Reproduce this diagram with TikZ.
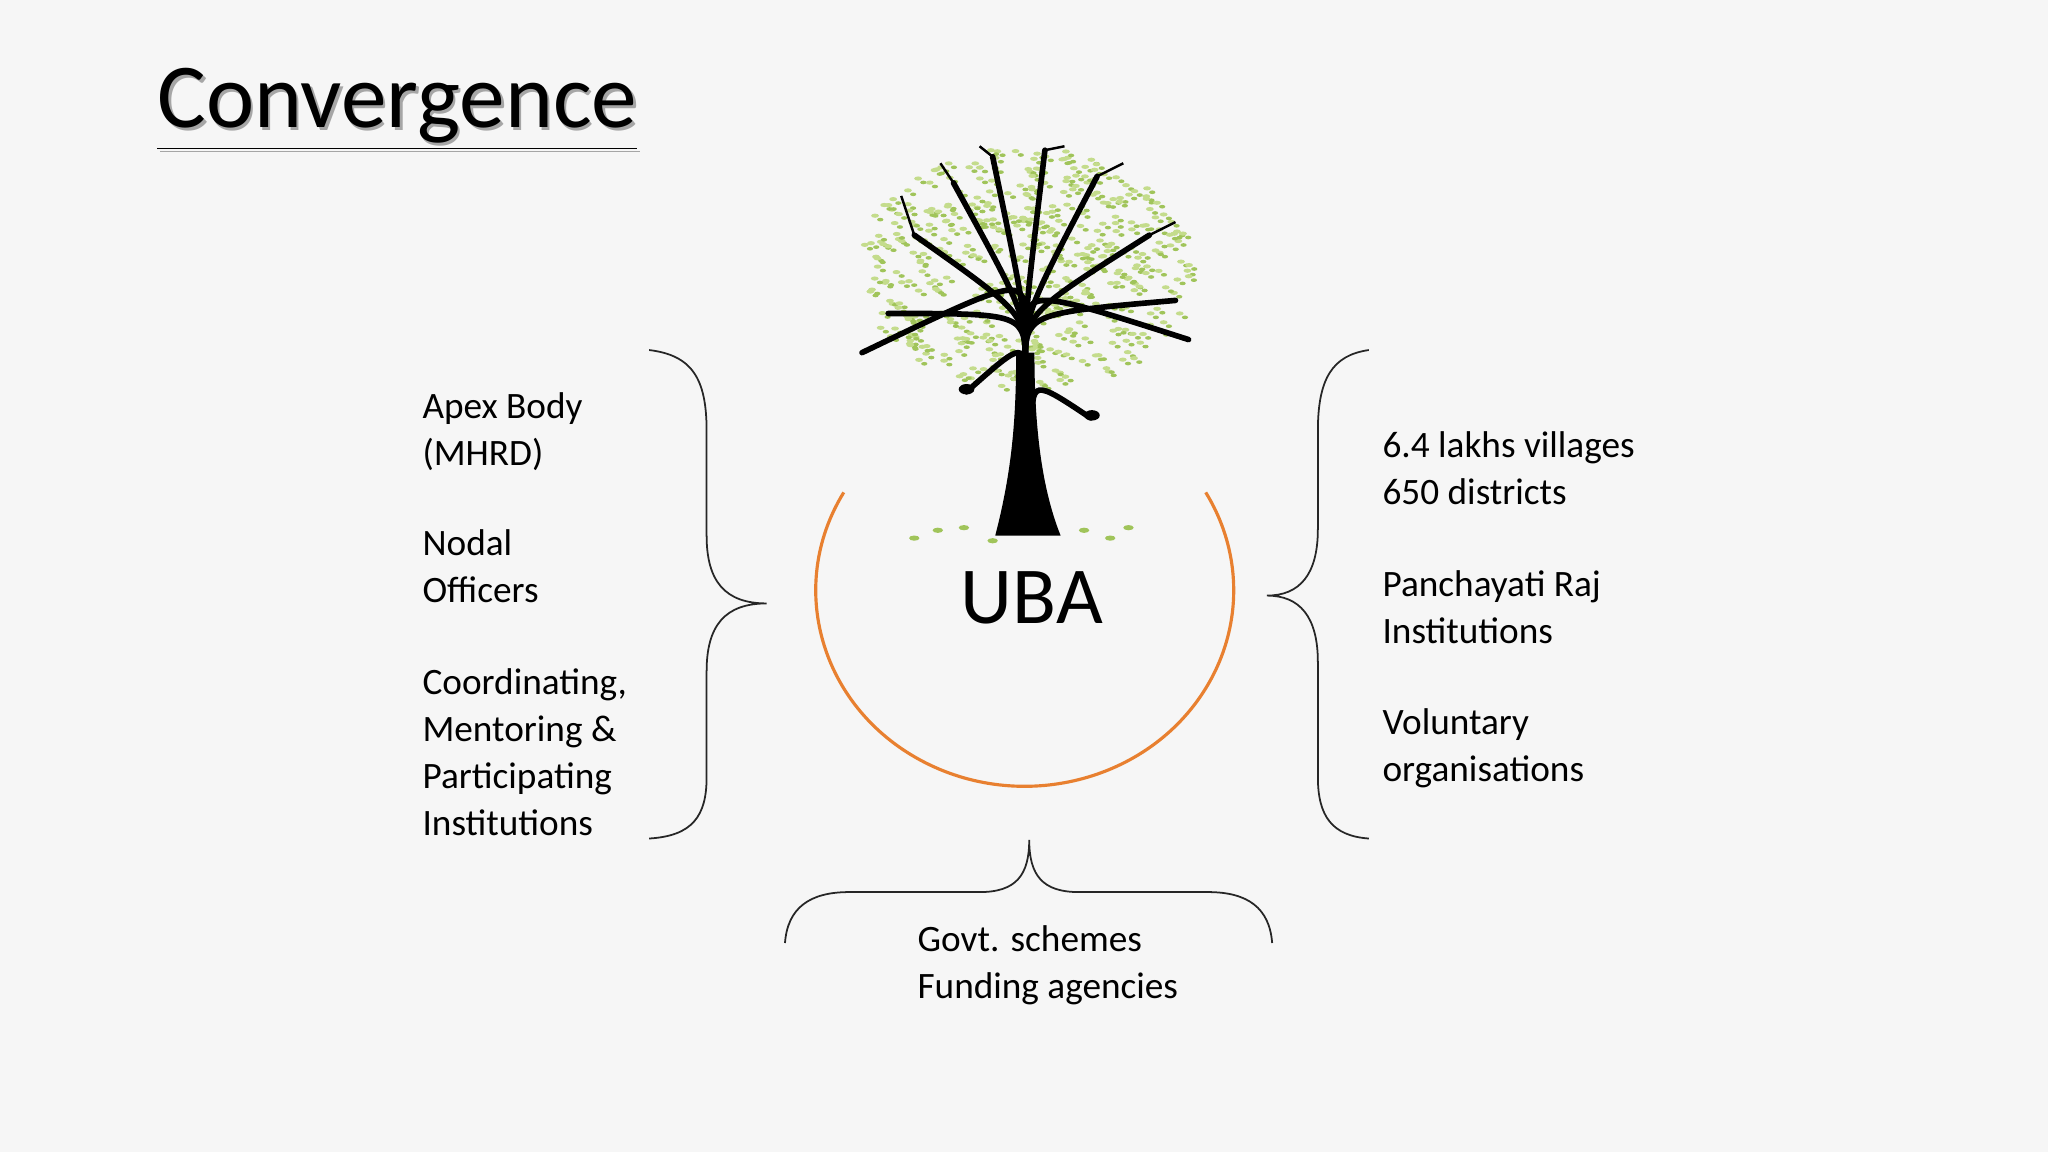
\documentclass[tikz,border=0pt]{standalone}
\usepackage{fontspec}
\setmainfont{Carlito}
\definecolor{bgcol}{RGB}{246,246,246}
\definecolor{arccol}{RGB}{232,128,48}
\definecolor{leafA}{RGB}{160,196,90}
\definecolor{leafB}{RGB}{196,220,140}
\begin{document}
\begin{tikzpicture}[x=0.01306cm,y=0.01306cm]
  \tikzset{txt/.style={anchor=north west,align=left,font=\fontsize{10.6pt}{13.4pt}\selectfont,inner sep=0pt},
    brace/.style={draw=black!85,line width=0.5pt},
    leaf/.style={fill=leafA,draw=none}}
  \fill[bgcol] (0,0) rectangle (1568,-882);
  \useasboundingbox (0,0) rectangle (1568,-882);

  % title
  \node[anchor=west,inner sep=0pt,text=black!35] at (122,-86) {\fontsize{26pt}{30pt}\selectfont\underline{Convergence}};
  \node[anchor=west,inner sep=0pt] (title) at (120,-84) {\fontsize{26pt}{30pt}\selectfont\underline{Convergence}};

  % tree
  \pgfmathsetseed{7}
  \foreach \i in {1,...,420}{
    \pgfmathsetmacro{\ang}{rand*180}
    \pgfmathsetmacro{\rr}{sqrt(rnd)}
    \pgfmathsetmacro{\lx}{785+128*\rr*cos(\ang)}
    \pgfmathsetmacro{\ly}{-205+92*\rr*sin(\ang)}
    \fill[leaf,fill=leafB] (\lx,\ly) ellipse (3 and 1.6);
    \fill[leaf] (\lx+4,\ly-3) ellipse (2.4 and 1.4);
  }
  \fill[black] (762,-410) .. controls (775,-360) and (778,-320) .. (778,-270)
     -- (792,-270) .. controls (792,-320) and (796,-370) .. (812,-410) -- cycle;
  \foreach \sx/\sy/\ex/\ey in {785/-280/700/-180, 785/-280/730/-140, 785/-280/760/-120,
      785/-280/800/-115, 785/-280/840/-135, 785/-280/880/-180, 785/-280/900/-230,
      785/-280/680/-240, 785/-300/740/-300, 790/-330/835/-320, 785/-250/660/-270,
      785/-260/910/-260}
    \draw[black,line width=1.6pt,line cap=round] (\sx,\sy) .. controls (\sx,\sy+40) .. (\ex,\ey);
  \foreach \sx/\sy/\ex/\ey in {700/-180/690/-150, 730/-140/720/-125, 800/-115/815/-112,
      840/-135/860/-125, 880/-180/900/-170, 760/-120/750/-112}
    \draw[black,line width=0.7pt] (\sx,\sy) -- (\ex,\ey);
  \fill[black] (740,-298) ellipse (6 and 4);
  \fill[black] (836,-318) ellipse (6 and 4);
  \foreach \x/\y in {700/-412,718/-406,738/-404,760/-414,830/-406,850/-412,864/-404}
    \fill[leaf] (\x,\y) ellipse (4 and 2);

  % arc and label
  \draw[arccol,line width=0.9pt] (646,-377) arc[start angle=150,end angle=390,x radius=160,y radius=150];
  \node[inner sep=0pt,font=\fontsize{23pt}{26pt}\selectfont] (uba) at (790,-458) {UBA};

  % left group
  \node[txt] (apex) at (323,-300) {Apex Body\\(MHRD)};
  \node[txt] (nodal) at (323,-405) {Nodal\\Officers};
  \node[txt] (coord) at (323,-511) {Coordinating,\\Mentoring \&\\Participating\\Institutions};
  \draw[brace] (497,-268) .. controls (530,-272) and (541,-290) .. (541,-330)
     -- (541,-410) .. controls (541,-445) and (555,-462) .. (587,-462)
     .. controls (555,-462) and (541,-479) .. (541,-514)
     -- (541,-595) .. controls (541,-625) and (530,-640) .. (497,-642);

  % right group
  \node[txt] (vill) at (1058,-330) {6.4 lakhs villages\\650 districts};
  \node[txt] (pri) at (1058,-436) {Panchayati Raj\\Institutions};
  \node[txt] (vol) at (1058,-542) {Voluntary\\organisations};
  \draw[brace] (1048,-268) .. controls (1020,-272) and (1009,-290) .. (1009,-330)
     -- (1009,-405) .. controls (1009,-440) and (995,-456) .. (970,-456)
     .. controls (995,-456) and (1009,-472) .. (1009,-507)
     -- (1009,-595) .. controls (1009,-625) and (1020,-640) .. (1048,-642);

  % bottom group
  \node[txt] (govt) at (702,-708) {Govt. schemes\\Funding agencies};
  \draw[brace] (601,-722) .. controls (603,-695) and (620,-683) .. (650,-683)
     -- (750,-683) .. controls (778,-683) and (788,-670) .. (788,-643)
     .. controls (788,-670) and (798,-683) .. (826,-683)
     -- (925,-683) .. controls (955,-683) and (972,-695) .. (974,-722);
\end{tikzpicture}
\end{document}
